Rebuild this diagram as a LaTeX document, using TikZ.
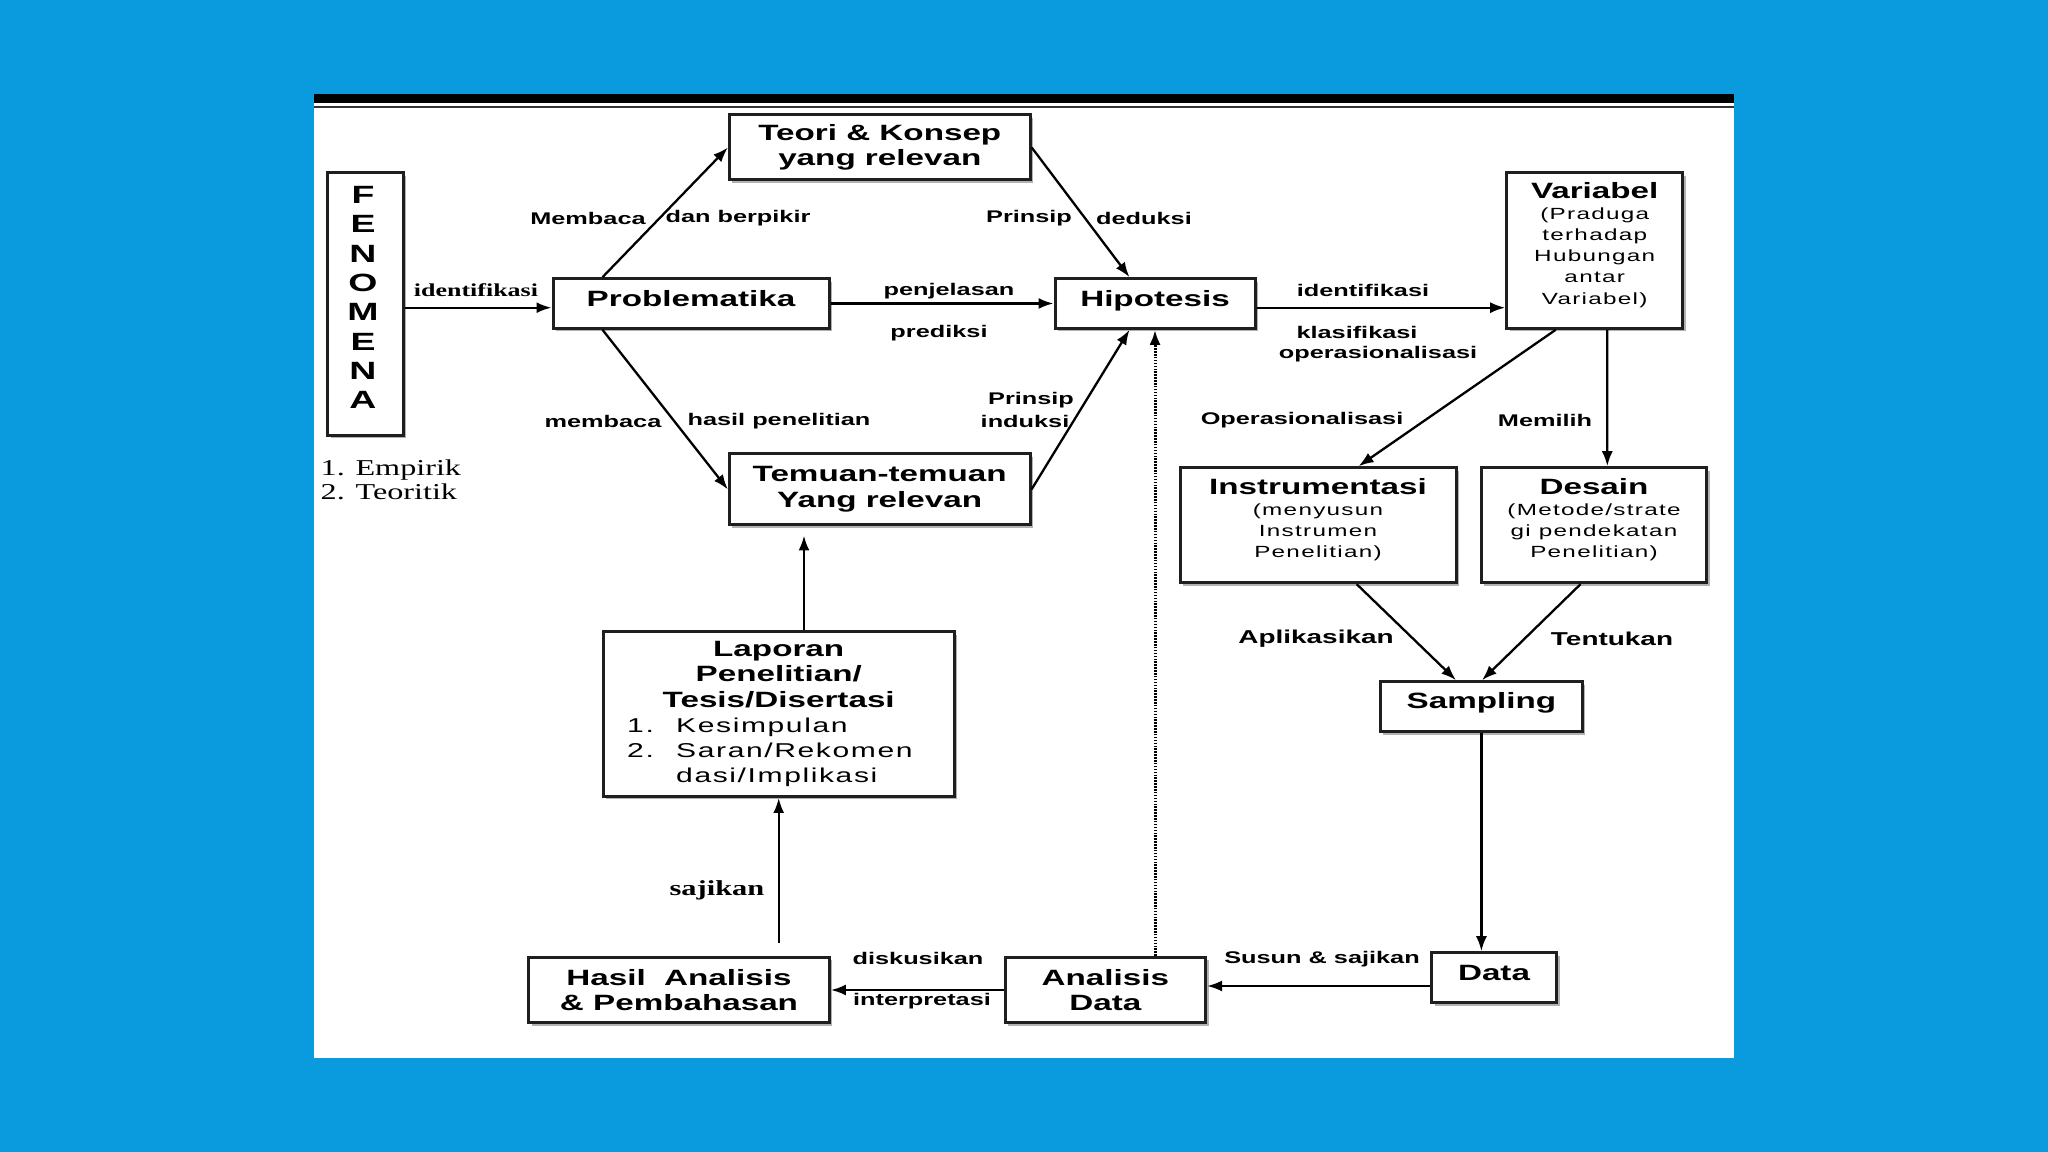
\documentclass[tikz,border=0pt]{standalone}
\usepackage{fontspec}
\newfontfamily\arb{Liberation Sans}[FakeStretch=1.5]
\newfontfamily\arsp{Liberation Sans}[FakeStretch=1.5,LetterSpace=8]
\newfontfamily\tms{Liberation Serif}[FakeStretch=1.42]
\usetikzlibrary{arrows.meta,shadows}
\definecolor{bgblue}{RGB}{9,155,222}
\tikzset{
 box/.style={draw=black!88, line width=0.3mm, fill=white, inner sep=0pt, align=center,
   drop shadow={shadow xshift=0.3mm, shadow yshift=-0.3mm, fill=black!60, opacity=0.5}},
 ttl/.style={font=\arb\bfseries\fontsize{6.3}{7.3}\selectfont},
 one/.style={text height=1.6mm, text depth=1.0mm},
 lab/.style={font=\arb\bfseries\fontsize{4.8}{5.8}\selectfont, inner sep=0pt},
 labbig/.style={font=\arb\bfseries\fontsize{5.3}{6.3}\selectfont, inner sep=0pt},
 serlab/.style={font=\tms\bfseries\fontsize{5.2}{6}\selectfont, inner sep=0pt},
 sub/.style={font=\arsp\fontsize{4.6}{6}\selectfont, inner sep=0pt, align=center},
 arr/.style={line width=0.23mm, -{Latex[length=1.5mm,width=1.1mm]}},
 dotarr/.style={line width=0.3mm, dash pattern=on 0.15mm off 0.14mm, -{Latex[length=1.5mm,width=1.1mm]}},
}
\begin{document}
\begin{tikzpicture}[x=0.1mm,y=-0.1mm]
\useasboundingbox (0,0) rectangle (2048,1152);
\fill[bgblue] (0,0) rectangle (2048,1152);
\fill[white] (314,94) rectangle (1734,1058);
\fill[black] (314,94) rectangle (1734,103);
\fill[black!80] (314,106) rectangle (1734,108.5);

% FENOMENA
\node[box, minimum width=7.57mm, minimum height=26.23mm] (fen) at (365.5,303.9) {};
\node[inner sep=0pt, align=center, font=\arb\bfseries\fontsize{7.1}{8.34}\selectfont] (fent) at (363,297.5) {F\\E\\N\\O\\M\\E\\N\\A};
\node[inner sep=0pt, align=left, anchor=west, font=\tms\fontsize{6.45}{6.8}\selectfont] (emp) at (320,480) {1. Empirik\\2. Teoritik};

% boxes
\node[box, ttl, minimum width=30.08mm, minimum height=6.5mm] (teori) at (879.8,147.5) {Teori \& Konsep\\yang relevan};
\node[box, ttl, one, minimum width=27.6mm, minimum height=4.96mm] (prob) at (691,303.5) {Problematika};
\node[box, ttl, one, minimum width=20mm, minimum height=4.96mm] (hip) at (1155,303.5) {Hipotesis};
\node[box, ttl, minimum width=30.06mm, minimum height=7.1mm] (tem) at (879.7,489.5) {Temuan-temuan\\Yang relevan};
\node[box, minimum width=17.6mm, minimum height=15.56mm] (var) at (1594.7,250.5) {};
\node[sub] (vart) at (1594.7,245) {{\arb\bfseries\fontsize{6.3}{6}\selectfont Variabel}\\(Praduga\\terhadap\\Hubungan\\antar\\Variabel)};
\node[box, minimum width=27.6mm, minimum height=11.5mm] (ins) at (1318,525.2) {};
\node[sub] (inst) at (1318,520) {{\arb\bfseries\fontsize{6.3}{6}\selectfont Instrumentasi}\\(menyusun\\Instrumen\\Penelitian)};
\node[box, minimum width=22.58mm, minimum height=11.5mm] (des) at (1594,525.2) {};
\node[sub] (dest) at (1594,520) {{\arb\bfseries\fontsize{6.3}{6}\selectfont Desain}\\(Metode/strate\\gi pendekatan\\Penelitian)};
\node[box, ttl, one, text depth=1.2mm, minimum width=20.2mm, minimum height=5mm] (samp) at (1481.4,706.7) {Sampling};
\node[box, ttl, one, minimum width=12.5mm, minimum height=5mm] (data) at (1494,977.7) {Data};
\node[box, ttl, minimum width=20.05mm, minimum height=6.54mm, font=\arb\bfseries\fontsize{6.3}{7.25}\selectfont] (ana) at (1105.3,990) {Analisis\\Data};
\node[box, ttl, minimum width=30.08mm, minimum height=6.54mm, font=\arb\bfseries\fontsize{6.3}{7.25}\selectfont] (has) at (679,990) {Hasil\ \ Analisis\\\& Pembahasan};
\node[box, minimum width=35.14mm, minimum height=16.46mm, font=\arsp\fontsize{5.7}{7.17}\selectfont] (lap) at (778.7,714.2) {%
{\arb\bfseries\fontsize{6.3}{7.17}\selectfont Laporan}\\
{\arb\bfseries\fontsize{6.3}{7.17}\selectfont Penelitian/}\\
{\arb\bfseries\fontsize{6.3}{7.17}\selectfont Tesis/Disertasi}\\
\makebox[30.3mm][l]{\makebox[4.9mm][l]{1.}Kesimpulan}\\
\makebox[30.3mm][l]{\makebox[4.9mm][l]{2.}Saran/Rekomen}\\
\makebox[30.3mm][l]{\hspace*{4.9mm}dasi/Implikasi}};

% labels
\node[serlab] (l1) at (476,290) {identifikasi};
\node[lab] (l2) at (588,218) {Membaca};
\node[lab] (l3) at (738,218) {dan berpikir};
\node[lab] (l4) at (1029,218) {Prinsip};
\node[lab] (l5) at (1144,218) {deduksi};
\node[lab] (l6) at (949,291) {penjelasan};
\node[lab] (l7) at (939,333) {prediksi};
\node[lab] (l8) at (603,421) {membaca};
\node[lab] (l9) at (779,421) {hasil penelitian};
\node[lab] (l10) at (1031,400) {Prinsip};
\node[lab] (l11) at (1025,421) {induksi};
\node[lab] (l12) at (1363,290) {identifikasi};
\node[lab] (l13) at (1357,332) {klasifikasi};
\node[lab] (l14) at (1378,354) {operasionalisasi};
\node[lab] (l15) at (1302,420) {Operasionalisasi};
\node[lab] (l16) at (1545,420) {Memilih};
\node[labbig] (l17) at (1316,639) {Aplikasikan};
\node[labbig] (l18) at (1612,639) {Tentukan};
\node[lab] (l19) at (1322,959) {Susun \& sajikan};
\node[lab] (l20) at (918,958) {diskusikan};
\node[lab] (l21) at (922,1001) {interpretasi};
\node[serlab, font=\tms\bfseries\fontsize{6.1}{7}\selectfont] (l22) at (717,890) {sajikan};

% connectors
\coordinate (pw) at ([yshift=-0.42mm]prob.west);
\draw[arr] (pw -| fen.east) -- (pw);
\draw[arr] ([xshift=5.1mm]prob.north west) -- (teori.west);
\draw[arr] (teori.east) -- ([xshift=-2.55mm]hip.north);
\draw[arr] (prob.east) -- (hip.west);
\draw[arr] ([xshift=5.1mm]prob.south west) -- (tem.west);
\draw[arr] (tem.east) -- ([xshift=-2.55mm]hip.south);
\draw[dotarr] (hip.south |- ana.north) -- (hip.south);
\coordinate (he) at ([yshift=-0.42mm]hip.east);
\draw[arr] (he) -- (he -| var.west);
\draw[arr] ([xshift=-3.9mm]var.south) -- ([xshift=4.06mm]ins.north);
\draw[arr] ([xshift=1.26mm]var.south) -- ([xshift=1.33mm]des.north);
\draw[arr] ([xshift=3.87mm]ins.south) -- ([xshift=-2.54mm]samp.north);
\draw[arr] ([xshift=-1.35mm]des.south) -- ([xshift=0.06mm]samp.north);
\draw[arr] (samp.south) -- (samp.south |- data.north);
\coordinate (dl) at ([yshift=-0.83mm]data.west);
\draw[arr] (dl) -- (dl -| ana.east);
\draw[arr] (ana.west) -- (has.east);
\coordinate (hl) at ([yshift=1.3mm]has.north);
\draw[arr] (hl -| lap.south) -- (lap.south);
\coordinate (ll) at ([xshift=2.53mm]lap.north);
\coordinate (tl) at ([yshift=-0.9mm]tem.south);
\draw[arr] (ll) -- (ll |- tl);
\end{tikzpicture}
\end{document}
